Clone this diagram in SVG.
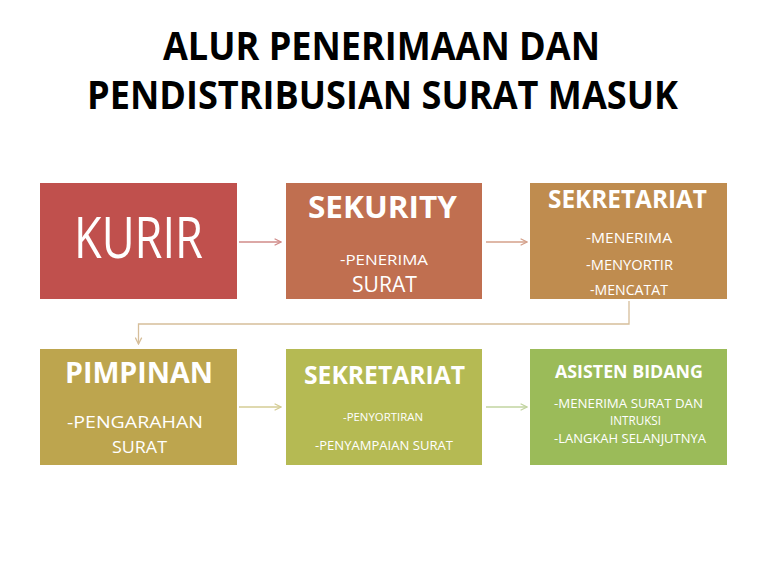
<svg xmlns="http://www.w3.org/2000/svg" width="768" height="576" viewBox="0 0 768 576">
<defs>
<style>
text{font-family:"Open Sans","Noto Sans","DejaVu Sans",sans-serif;fill:#fff;text-anchor:middle}
.t{fill:#000;font-weight:bold;font-size:39px}
.h{font-weight:bold}
.c{fill:none;stroke-width:1.3}
</style>
<marker id="m1" viewBox="0 0 10 10" refX="9" refY="5" markerWidth="8" markerHeight="8" markerUnits="userSpaceOnUse" orient="auto"><path d="M1,1 L9,5 L1,9" fill="none" stroke="#D08B89" stroke-width="1.6"/></marker>
<marker id="m2" viewBox="0 0 10 10" refX="9" refY="5" markerWidth="8" markerHeight="8" markerUnits="userSpaceOnUse" orient="auto"><path d="M1,1 L9,5 L1,9" fill="none" stroke="#D4A08A" stroke-width="1.6"/></marker>
<marker id="m3" viewBox="0 0 10 10" refX="9" refY="5" markerWidth="8" markerHeight="8" markerUnits="userSpaceOnUse" orient="auto"><path d="M1,1 L9,5 L1,9" fill="none" stroke="#D6BE9A" stroke-width="1.6"/></marker>
<marker id="m4" viewBox="0 0 10 10" refX="9" refY="5" markerWidth="8" markerHeight="8" markerUnits="userSpaceOnUse" orient="auto"><path d="M1,1 L9,5 L1,9" fill="none" stroke="#D4CC94" stroke-width="1.6"/></marker>
<marker id="m5" viewBox="0 0 10 10" refX="9" refY="5" markerWidth="8" markerHeight="8" markerUnits="userSpaceOnUse" orient="auto"><path d="M1,1 L9,5 L1,9" fill="none" stroke="#C2D4A0" stroke-width="1.6"/></marker>
</defs>
<rect width="768" height="576" fill="#fff"/>
<g id="title">
<text class="t" x="381.5" y="60" textLength="437" lengthAdjust="spacingAndGlyphs">ALUR PENERIMAAN DAN</text>
<text class="t" x="382.5" y="109" textLength="591" lengthAdjust="spacingAndGlyphs">PENDISTRIBUSIAN SURAT MASUK</text>
</g>
<g id="connectors">
<path class="c" d="M239,242 H281" stroke="#D08B89" marker-end="url(#m1)"/>
<path class="c" d="M486,242 H527" stroke="#D4A08A" marker-end="url(#m2)"/>
<path class="c" d="M629,301 V324 H138.5 V344" stroke="#D6BE9A" marker-end="url(#m3)"/>
<path class="c" d="M239,407 H281" stroke="#D4CC94" marker-end="url(#m4)"/>
<path class="c" d="M486,407 H527" stroke="#C2D4A0" marker-end="url(#m5)"/>
</g>
<g id="kurir">
<rect x="40" y="183" width="197" height="116" fill="#C0504D"/>
<text x="138.5" y="258" font-size="56" textLength="129" lengthAdjust="spacingAndGlyphs">KURIR</text>
</g>
<g id="sekurity">
<rect x="286" y="183" width="196" height="116" fill="#C06F50"/>
<text class="h" x="382.5" y="218" font-size="30" textLength="149" lengthAdjust="spacingAndGlyphs">SEKURITY</text>
<text x="384" y="265" font-size="15" textLength="88" lengthAdjust="spacingAndGlyphs">-PENERIMA</text>
<text x="384.5" y="292" font-size="21" textLength="65" lengthAdjust="spacingAndGlyphs">SURAT</text>
</g>
<g id="sekretariat1">
<rect x="530" y="183" width="197" height="116" fill="#BF8C4F"/>
<text class="h" x="627.5" y="208" font-size="25" textLength="159" lengthAdjust="spacingAndGlyphs">SEKRETARIAT</text>
<text x="629" y="243" font-size="14" textLength="86" lengthAdjust="spacingAndGlyphs">-MENERIMA</text>
<text x="629.5" y="270" font-size="14" textLength="87" lengthAdjust="spacingAndGlyphs">-MENYORTIR</text>
<text x="629" y="295" font-size="14" textLength="78" lengthAdjust="spacingAndGlyphs">-MENCATAT</text>
</g>
<g id="pimpinan">
<rect x="40" y="349" width="197" height="116" fill="#BDA54E"/>
<text class="h" x="139" y="383" font-size="28" textLength="148" lengthAdjust="spacingAndGlyphs">PIMPINAN</text>
<text x="135" y="428" font-size="17" textLength="136" lengthAdjust="spacingAndGlyphs">-PENGARAHAN</text>
<text x="139.5" y="453" font-size="17" textLength="55" lengthAdjust="spacingAndGlyphs">SURAT</text>
</g>
<g id="sekretariat2">
<rect x="286" y="349" width="196" height="116" fill="#B5BA53"/>
<text class="h" x="384.5" y="384" font-size="25" textLength="161" lengthAdjust="spacingAndGlyphs">SEKRETARIAT</text>
<text x="383" y="421" font-size="11" textLength="80" lengthAdjust="spacingAndGlyphs">-PENYORTIRAN</text>
<text x="384" y="450" font-size="12" textLength="138" lengthAdjust="spacingAndGlyphs">-PENYAMPAIAN SURAT</text>
</g>
<g id="asisten">
<rect x="530" y="349" width="197" height="116" fill="#9BBB59"/>
<text class="h" x="629" y="378" font-size="17" textLength="148" lengthAdjust="spacingAndGlyphs">ASISTEN BIDANG</text>
<text x="628.5" y="408" font-size="12" textLength="149" lengthAdjust="spacingAndGlyphs">-MENERIMA SURAT DAN</text>
<text x="635.5" y="425" font-size="12" textLength="51" lengthAdjust="spacingAndGlyphs">INTRUKSI</text>
<text x="630" y="443" font-size="12" textLength="152" lengthAdjust="spacingAndGlyphs">-LANGKAH SELANJUTNYA</text>
</g>
</svg>
